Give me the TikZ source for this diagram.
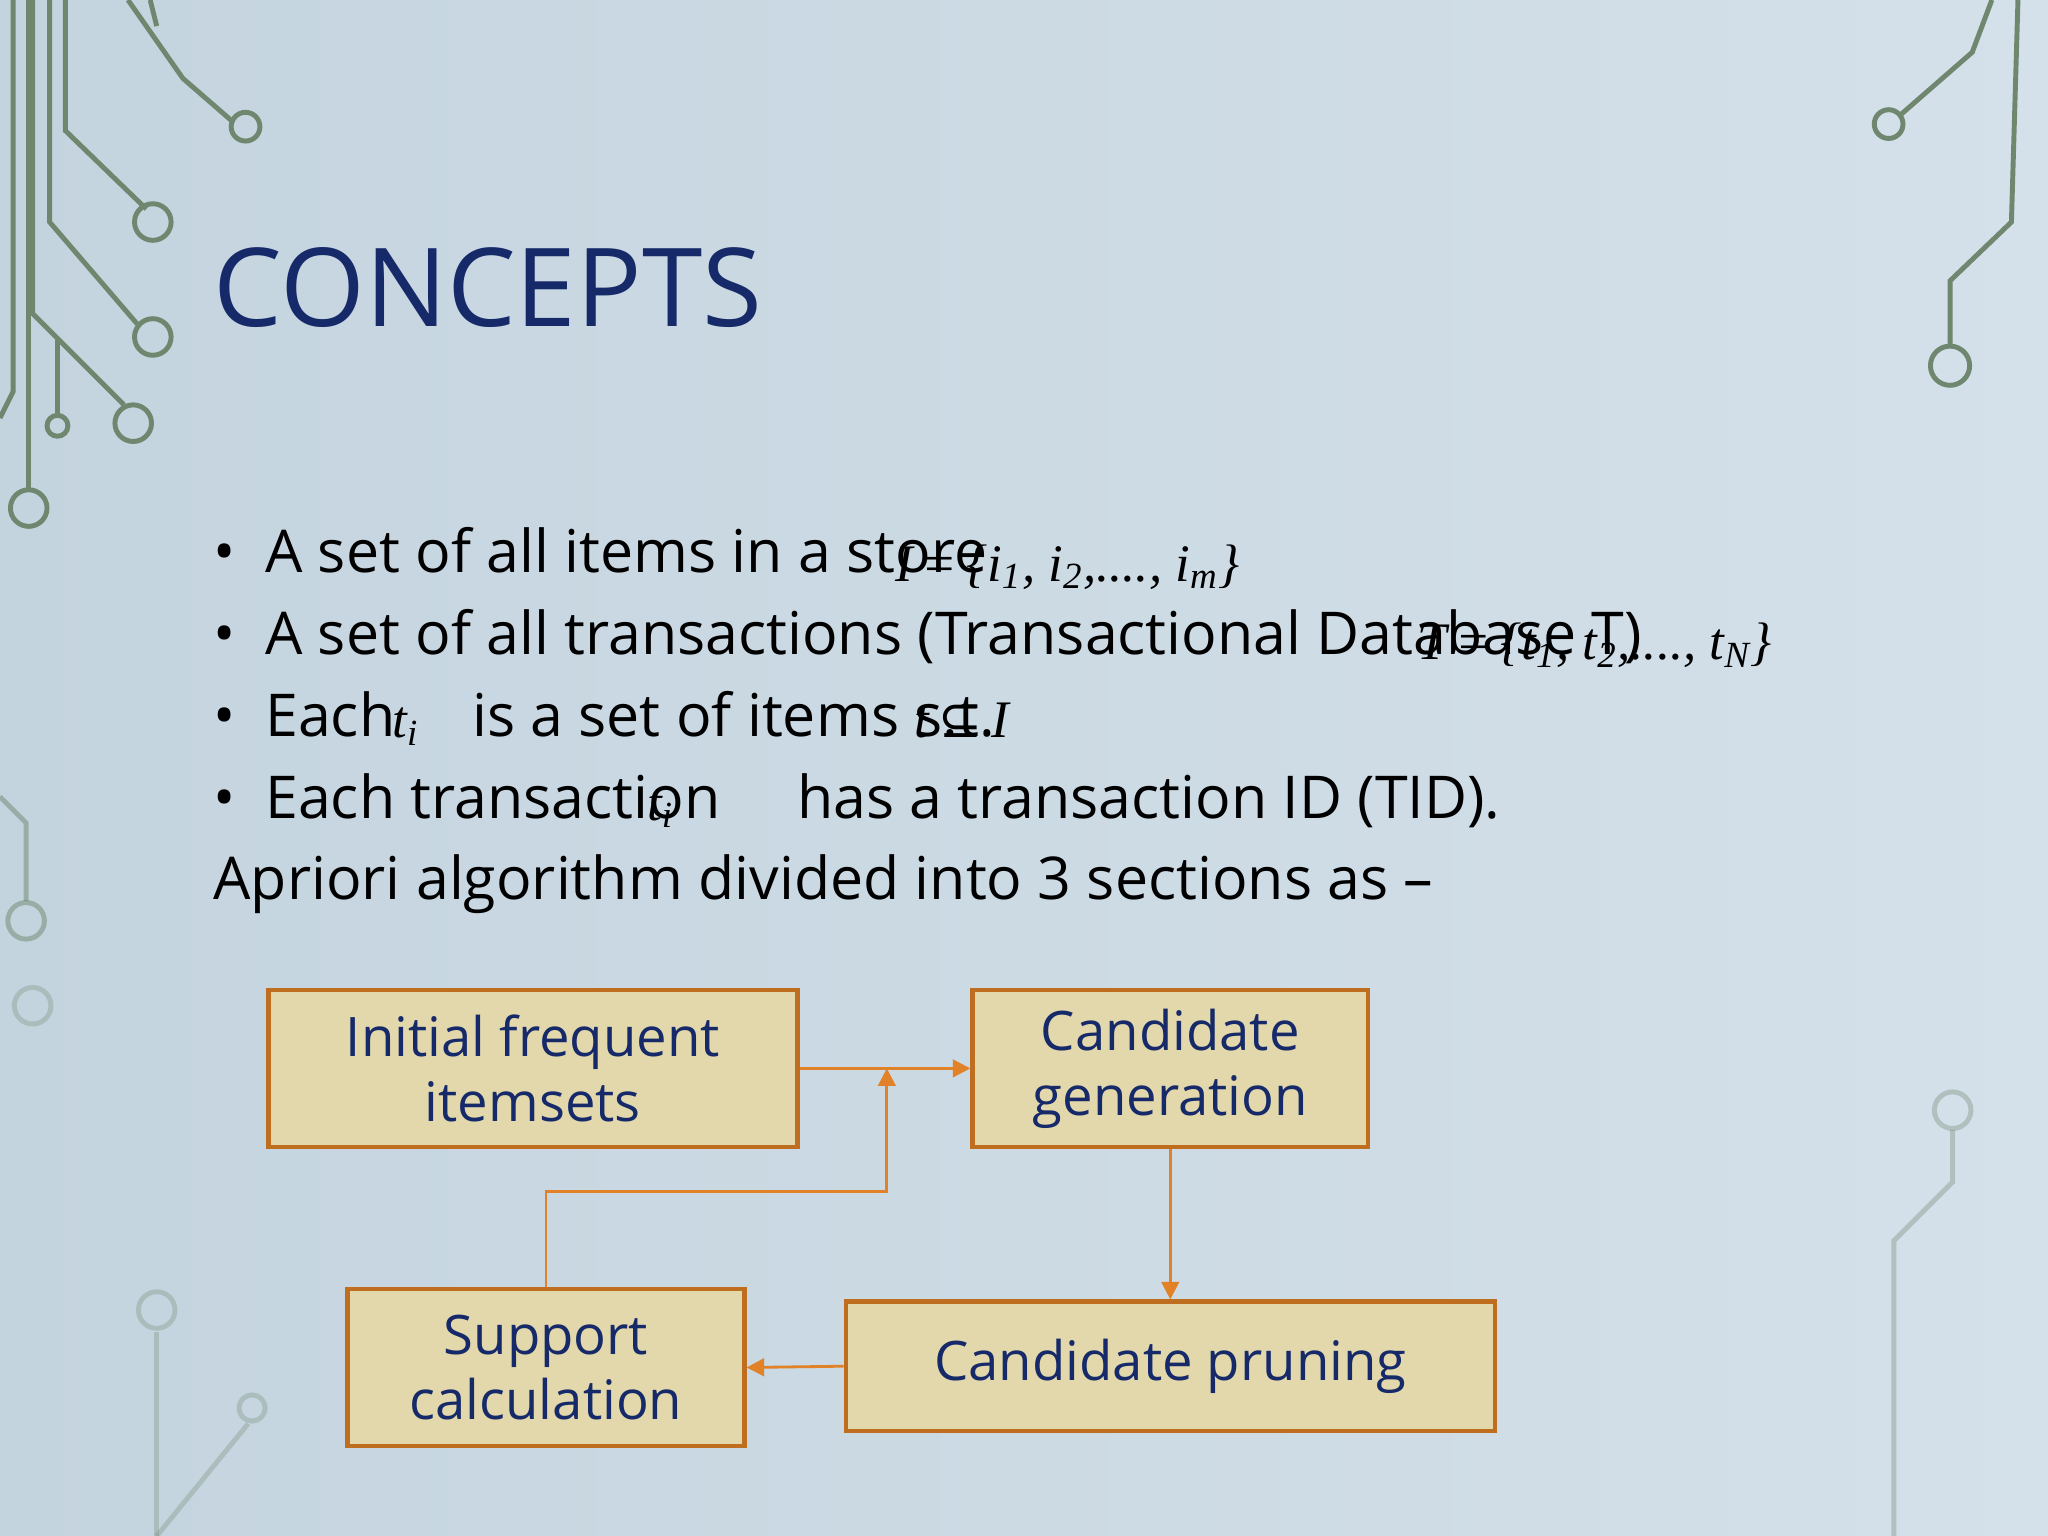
\documentclass[tikz,border=0pt]{standalone}
\usepackage{fontspec}
\setmainfont{Open Sans}
\newfontfamily\mathserif{Liberation Serif}
\usetikzlibrary{arrows.meta}
\definecolor{navy}{RGB}{22,42,105}
\definecolor{boxfill}{RGB}{226,216,172}
\definecolor{boxline}{RGB}{190,110,30}
\definecolor{arrowc}{RGB}{225,130,40}
\definecolor{circ}{RGB}{110,135,110}
\tikzset{
  box/.style={draw=boxline, line width=1.2pt, fill=boxfill, text=navy, align=center, font=\fontsize{15.5}{18.5}\selectfont, inner sep=0pt},
  conn/.style={draw=arrowc, line width=0.8pt, -{Triangle[length=5pt,width=5pt]}},
  btxt/.style={anchor=base west, inner sep=0pt, font=\fontsize{16.8}{20}\selectfont, text=black},
  mth/.style={anchor=base west, inner sep=0pt, font=\mathserif\itshape\fontsize{15}{17}\selectfont},
  trace/.style={draw=circ, line width=1.4pt},
  pad/.style={draw=circ, line width=1.4pt, fill=none},
}
\begin{document}
\begin{tikzpicture}[x=0.01306cm,y=-0.01306cm]
\useasboundingbox (0,0) rectangle (1568,1176);
\shade[left color={rgb,255:red,196;green,212;blue,222}, right color={rgb,255:red,212;green,224;blue,234}] (0,0) rectangle (1568,1176);
% circuit decorations
\draw[trace] (98,0) -- (140,60) -- (178,93); \draw[pad] (188,97) circle (11);
\draw[trace] (115,0) -- (120,20);
\draw[trace] (50,0) -- (50,100) -- (112,160); \draw[pad] (117,170) circle (14);
\draw[trace] (38,0) -- (38,170) -- (105,248); \draw[pad] (117,258) circle (14);
\draw[trace] (25,0) -- (25,240) -- (95,310); \draw[pad] (102,324) circle (14);
\draw[trace] (22,0) -- (22,375); \draw[pad] (22,389) circle (14);
\draw[trace] (10,0) -- (10,300) -- (0,320);
\draw[trace] (44,260) -- (44,318); \draw[pad] (44,326) circle (8);
\draw[trace,opacity=0.5] (0,610) -- (20,630) -- (20,690); \draw[pad,opacity=0.5] (20,705) circle (14);
\draw[trace,opacity=0.3] (25,770) circle (14);
\draw[trace] (1525,0) -- (1510,40) -- (1455,88); \draw[pad] (1446,95) circle (11);
\draw[trace] (1545,0) -- (1540,170) -- (1493,215) -- (1493,265); \draw[pad] (1493,280) circle (15);
\draw[trace,opacity=0.35] (1495,865) -- (1495,905) -- (1450,950) -- (1450,1176);
\draw[pad,opacity=0.35] (1495,850) circle (14);
\draw[trace,opacity=0.3] (120,1020) -- (120,1176); \draw[pad,opacity=0.3] (120,1003) circle (14);
\draw[trace,opacity=0.3] (190,1090) -- (120,1176); \draw[pad,opacity=0.3] (193,1078) circle (10);
% title
\node[anchor=base west, inner sep=0pt, text=navy, font=\fontsize{31}{36}\selectfont] (title) at (163,250) {CONCEPTS};
% bullets
\node[btxt] (b1) at (163,438) {\textbullet\hspace{0.5em}A set of all items in a store};
\node[btxt] (b2) at (163,501) {\textbullet\hspace{0.5em}A set of all transactions (Transactional Database T)};
\node[btxt] (b3) at (163,564) {\textbullet\hspace{0.5em}Each\hspace{1.3em}is a set of items s.t.};
\node[btxt] (b4) at (163,627) {\textbullet\hspace{0.5em}Each transaction\hspace{1.3em}has a transaction ID (TID).};
\node[btxt] (b5) at (163,689) {Apriori algorithm divided into 3 sections as –};
\node[mth] (m1) at (685,445) {I\,=\,\{i\textsubscript{1}, i\textsubscript{2},...., i\textsubscript{m}\}};
\node[mth] (m2) at (1085,505) {T\,=\,\{t\textsubscript{1}, t\textsubscript{2},...., t\textsubscript{N}\}};
\node[mth] (m3) at (300,565) {t\textsubscript{i}};
\node[mth] (m4) at (700,565) {t\,{\fontspec{DejaVu Sans}\upshape ⊆}\,I};
\node[mth] (m5) at (495,628) {t\textsubscript{i}};
% boxes
\node[box, minimum width=5.29cm, minimum height=1.567cm] (A) at (408,818) {Initial frequent\\itemsets};
\node[box, minimum width=3.957cm, minimum height=1.567cm] (B) at (896,818) {Candidate\\generation};
\node[box, minimum width=3.97cm, minimum height=1.567cm] (C) at (418,1047) {Support\\calculation};
\node[box, minimum width=6.49cm, minimum height=1.293cm] (D) at (896,1046) {Candidate pruning};
\coordinate (j) at (679,818);
\draw[conn] (A.east) -- (B.west);
\draw[conn] (B.south) -- (D.north);
\draw[conn] (D.west) -- (C.east);
\draw[conn] (C.north) |- (679,912) -- (j);
\end{tikzpicture}
\end{document}
